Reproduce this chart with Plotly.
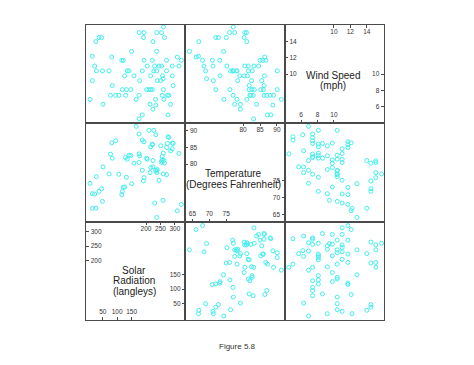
import plotly.graph_objects as go

# ---- data ----
solar = [260, 193, 237, 254, 176, 37, 46, 191, 264, 26, 224, 150, 237, 14, 81, 308,
         116, 121, 193, 222, 271, 322, 22, 204, 230, 245, 254, 291, 314, 28, 49, 72,
         135, 141, 187, 227, 237, 271, 126, 158, 216, 257, 259, 291, 14, 178, 239, 251,
         83, 294, 118, 132, 147, 202, 210, 216, 222, 260, 77, 95, 106, 129, 176, 256,
         274, 279, 6, 166, 233, 262, 51, 214, 234, 285, 224, 187, 276, 176]
temp = [77.1, 76.0, 77.5, 81.0, 80.5, 71.9, 72.7, 75.0, 80.3, 66.9, 81.1, 74.2, 64.1, 66.8, 86.4, 66.1,
        70.9, 73.1, 86.7, 85.8, 85.0, 68.0, 71.1, 81.5, 68.4, 75.2, 80.5, 84.6, 83.2, 76.3, 68.9, 77.1,
        81.5, 82.7, 78.2, 90.1, 78.0, 76.9, 73.2, 80.3, 79.0, 81.3, 69.2, 86.3, 71.2, 82.5, 78.4, 85.5,
        81.8, 86.2, 71.9, 76.1, 82.6, 81.8, 90.1, 85.2, 86.0, 83.3, 83.0, 87.0, 77.0, 82.0, 89.0, 82.3,
        86.2, 88.0, 74.3, 91.3, 78.2, 81.1, 79.2, 77.5, 88.8, 84.0, 79.2, 87.2, 88.2, 83.1]
wind = [15.8, 15.1, 15.1, 15.1, 15.1, 14.5, 14.5, 14.5, 14.5, 14.0, 14.0, 12.8, 12.8, 12.2, 12.1, 12.1,
        11.7, 11.7, 11.7, 11.7, 11.7, 11.7, 11.0, 11.0, 11.0, 11.0, 11.0, 11.0, 11.0, 10.4, 10.4, 10.4,
        10.4, 10.4, 10.4, 10.4, 10.4, 10.4, 9.8, 9.8, 9.8, 9.8, 9.45, 9.8, 9.2, 9.2, 9.2, 9.2,
        8.6, 8.6, 8.1, 8.1, 8.1, 8.1, 8.1, 8.1, 8.1, 8.1, 7.4, 7.4, 7.4, 7.4, 7.4, 7.4,
        7.4, 7.4, 6.9, 6.9, 6.9, 6.9, 6.3, 6.3, 6.2, 6.3, 5.7, 5.0, 5.0, 4.5]

var_values = [solar, temp, wind]
var_titles = [["Solar", "Radiation", "(langleys)"],
              ["Temperature", "(Degrees Fahrenheit)"],
              ["Wind Speed", "(mph)"]]
var_ranges = [[-8, 336], [62.9, 92.3], [4.0, 16.1]]
lower_ticks = [[50, 100, 150], [65, 70, 75], [6, 8, 10]]
upper_ticks = [[200, 250, 300], [80, 85, 90], [10, 12, 14]]
caption = "Figure 5.8"

# ---- layout geometry ----
W, H = 474, 365
xpx = [86, 185.3, 284.7, 384]
ypx = [320, 221.5, 123, 24.5]  # bottom row first
xdom = [[xpx[i] / W, xpx[i + 1] / W] for i in range(3)]
ydom = [[1 - ypx[i] / H, 1 - ypx[i + 1] / H] for i in range(3)]

FONT = "Liberation Sans, Arial, sans-serif"
LINE = "#4a4a4a"
PT = "#45EEEE"
tickfont = dict(family=FONT, size=6.5, color="#333333")

fig = go.Figure()
layout = dict(width=W, height=H, margin=dict(l=0, r=0, t=0, b=0, autoexpand=False),
              paper_bgcolor="white", plot_bgcolor="white", showlegend=False,
              annotations=[])

def ref(p, n):
    return p if n == 1 else f"{p}{n}"

def axname(p, n):
    return p + "axis" + ("" if n == 1 else str(n))

for r in range(3):
    for c in range(3):
        k = r * 3 + c + 1
        xk, yk = ref("x", k), ref("y", k)
        base = dict(showline=True, mirror=True, linecolor=LINE, linewidth=1,
                    showgrid=False, zeroline=False, ticks="", showticklabels=False,
                    fixedrange=True)
        xa = dict(base, domain=xdom[c], anchor=yk, range=var_ranges[c])
        ya = dict(base, domain=ydom[r], anchor=xk, range=var_ranges[r])
        if r != c:
            fig.add_trace(go.Scatter(
                x=var_values[c], y=var_values[r], mode="markers",
                xaxis=xk, yaxis=yk, hoverinfo="skip",
                marker=dict(symbol="circle-open", size=4, color=PT, line=dict(width=1, color=PT))))
        else:
            tick_common = dict(ticks="inside", ticklen=3, tickwidth=1, tickcolor=LINE,
                               showticklabels=True, ticklabelposition="inside",
                               ticklabeloverflow="allow", tickfont=tickfont)
            xa.update(tick_common, tickvals=lower_ticks[c])
            ya.update(tick_common, tickvals=upper_ticks[r])
            on = 10 + c
            layout[axname("x", on)] = dict(tick_common, overlaying=xk, anchor=yk, side="top",
                                           range=var_ranges[c], tickvals=upper_ticks[c],
                                           showline=False, showgrid=False, zeroline=False, fixedrange=True)
            layout[axname("y", on)] = dict(tick_common, overlaying=yk, anchor=xk, side="right",
                                           range=var_ranges[r], tickvals=lower_ticks[r],
                                           showline=False, showgrid=False, zeroline=False, fixedrange=True)
            fig.add_trace(go.Scatter(x=[], y=[], xaxis=xk, yaxis=yk, mode="markers"))
            fig.add_trace(go.Scatter(x=[], y=[], xaxis=ref("x", on), yaxis=yk, mode="markers"))
            fig.add_trace(go.Scatter(x=[], y=[], xaxis=xk, yaxis=ref("y", on), mode="markers"))
            lines = var_titles[c]
            n = len(lines)
            step = 0.1046
            center = 0.43 if n == 2 else 0.397
            top = center + step * (n - 1) / 2
            for i, txt in enumerate(lines):
                layout["annotations"].append(dict(
                    text=txt, xref=f"{xk} domain", yref=f"{yk} domain",
                    x=0.485, y=top - i * step, showarrow=False,
                    xanchor="center", yanchor="middle",
                    font=dict(family=FONT, size=10, color="#222222")))
        layout[axname("x", k)] = xa
        layout[axname("y", k)] = ya

layout["annotations"].append(dict(text=caption, xref="paper", yref="paper",
                                  x=237.5 / W, y=1 - 346 / H, showarrow=False,
                                  xanchor="center", yanchor="middle",
                                  font=dict(family=FONT, size=8, color="#333333")))

fig.update_layout(**layout)
fig.write_html("out.html", config={"displayModeBar": False},
               post_script="document.body.style.margin='0';")
